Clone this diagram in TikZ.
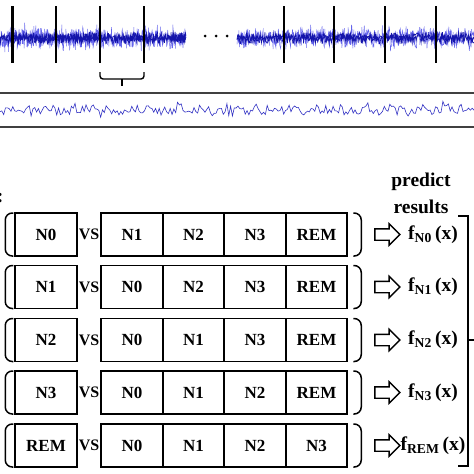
\documentclass[tikz,border=0pt]{standalone}
\usepackage{fontspec}
\setmainfont{Liberation Serif}
\usetikzlibrary{
    positioning,
    calc,
    shapes.arrows
}
\definecolor{sigdark}{RGB}{20,20,170}
\definecolor{siglight}{RGB}{100,100,235}
\definecolor{sigmid}{RGB}{50,50,195}
\tikzset{
  cell/.style = {
      draw,
      line width=1.6pt,
      outer sep=0pt,
      inner sep=0pt,
      minimum width=61.5pt,
      minimum height=43pt,
      font=\fontsize{17}{19}\selectfont\bfseries
  },
  vs/.style = {
      inner sep=0pt,
      font=\fontsize{16}{18}\selectfont\bfseries
  },
  cut/.style = {
      line width=2.6pt
  },
  paren/.style = {
      line width=1.5pt,
      rounded corners=7pt
  },
  hollow/.style = {
      single arrow,
      draw,
      line width=1.4pt,
      inner sep=5pt,
      minimum height=25pt,
      single arrow head extend=5pt
  },
  result/.style = {
      inner sep=0pt,
      font=\fontsize{19.5}{22}\selectfont\bfseries
  }
}

\begin{document}
\begin{tikzpicture}[x=1pt,y=-1pt]
    \useasboundingbox (0,0) rectangle (474,474);
    \clip (0,0) rectangle (474,474);
    % Raw signal, cut into segments
    \pgfmathsetseed{17}
    \foreach \xa/\xb in {0/186, 237/474} {
      \draw[siglight, line width=0.45pt] plot[domain=\xa:\xb, samples=500]
        (\x,{38+10*rand+10*rand*rand*rand});
      \draw[sigdark, line width=0.6pt] plot[domain=\xa:\xb, samples=400]
        (\x,{38+6*rand});
      \draw[sigdark, line width=0.8pt] plot[domain=\xa:\xb, samples=300]
        (\x,{38+3*rand});
    }
    \foreach \x in {12.7,56,100,144,284,334,385,436}
      \draw[cut] (\x,6) -- (\x,63);
    \foreach \x in {205,216,227}
      \fill (\x,36) circle (1.5pt);
    % One segment
    \draw[line width=1.4pt, rounded corners=3pt] (100,72) -- (100,79) -- (144,79) -- (144,72);
    \draw[line width=1.4pt] (122,79) -- (122,86);
    \draw[sigmid, line width=0.6pt] plot[domain=0:474, samples=260]
      (\x,{110+5*rand+7*rand*rand*rand});
    \draw[line width=1.4pt, black!75] (-5,93) rectangle (479,127);
    % One-vs-rest rows
    \node[result] (colon) at (0,198) {:};
    \node[result, font=\fontsize{19.5}{27}\selectfont\bfseries, align=center, anchor=south]
      (pred) at (421,214) {predict\\results};
    \foreach \row/\cy/\p/\q/\r/\s/\t in {1/234.5/N0/N1/N2/N3/REM,
        2/287/N1/N0/N2/N3/REM, 3/340/N2/N0/N1/N3/REM,
        4/392.5/N3/N0/N1/N2/REM, 5/445.5/REM/N0/N1/N2/N3} {
      \node[cell] (a\row) at (46,\cy) {\p};
      \node[vs] (v\row) at (89,\cy) {VS};
      \node[cell] (b\row) at (132,\cy) {\q};
      \node[cell, right=0pt of b\row] (c\row) {\r};
      \node[cell, right=0pt of c\row] (d\row) {\s};
      \node[cell, right=0pt of d\row] (e\row) {\t};
      \draw[paren] ($(a\row.north west)+(-2,0)$) -| ($(a\row.south west)+(-10,0)$)
        -- ($(a\row.south west)+(-2,0)$);
      \draw[paren] ($(e\row.north east)+(6,0)$) -| ($(e\row.south east)+(14,0)$)
        -- ($(e\row.south east)+(6,0)$);
      \node[hollow] (w\row) at (384.5,\cy) {};
      \node[result] (f\row) at (433,\cy) {f\textsubscript{\p}\,(x)};
    }
    % Collected outputs
    \draw[line width=1.4pt] (458,216) -- (468,216) -- (468,466) -- (458,466);
    \draw[line width=1.4pt] (468,340) -- (474,340);
\end{tikzpicture}
\end{document}
